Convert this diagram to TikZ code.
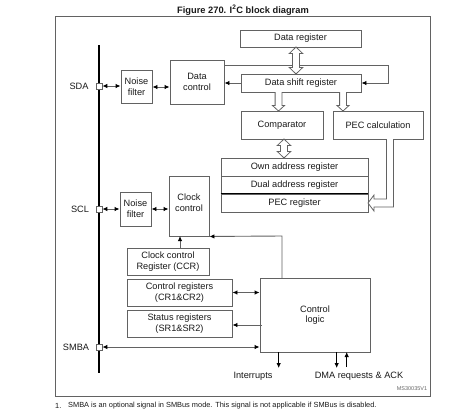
\documentclass[tikz,border=0pt]{standalone}
\usepackage{fontspec}
\setmainfont{Liberation Sans}
\usetikzlibrary{arrows.meta,calc}
\definecolor{boxline}{HTML}{626262}
\definecolor{txt}{HTML}{1A1A1A}
\newcommand\hollowDbl[3]{% cx, ytop, ybottom
  \draw[hollow] (#1,#2) -- (#1+6.7,#2+6.5) -- (#1+3.5,#2+6.5) -- (#1+3.5,#3-6.5) -- (#1+6.7,#3-6.5) -- (#1,#3) -- (#1-6.7,#3-6.5) -- (#1-3.5,#3-6.5) -- (#1-3.5,#2+6.5) -- (#1-6.7,#2+6.5) -- cycle;}
\newcommand\hollowDown[3]{% cx, ytop, ybottom
  \draw[hollow] (#1-3.4,#2) -- (#1-3.4,#3-5.5) -- (#1-6,#3-5.5) -- (#1,#3) -- (#1+6,#3-5.5) -- (#1+3.4,#3-5.5) -- (#1+3.4,#2);}
\begin{document}
\begin{tikzpicture}[x=1pt,y=-1pt,
  every node/.style={text=txt},
  lbl/.style={font=\fontsize{9.2}{10.6}\selectfont, align=center, inner sep=0pt},
  blk/.style={lbl, draw=boxline, line width=0.9pt, fill=white},
  pin/.style={draw=boxline, fill=white, line width=0.8pt, minimum size=6pt, inner sep=0pt},
  conn/.style={draw=boxline, line width=0.9pt},
  tip/.style={-{Latex[length=5pt,width=4.5pt,color=black]}},
  dtip/.style={{Latex[length=5pt,width=4.5pt,color=black]}-{Latex[length=5pt,width=4.5pt,color=black]}},
  hollow/.style={draw=boxline, line width=0.8pt, fill=white}
]
\useasboundingbox (0,0) rectangle (474,416);
\fill[white] (0,0) rectangle (474,416);

% title
\node[inner sep=0pt, font=\fontsize{9.3}{11}\selectfont\bfseries] (title) at (243,10) {Figure 270. I\textsuperscript{2}C block diagram};

% frame
\draw[boxline, line width=0.9pt] (55,16) rectangle (430,396);

% bus
\draw[black, line width=1.4pt] (99,45) -- (99,373);

% blocks
\node[blk, minimum width=31pt, minimum height=33pt] (nfa) at (136.5,86.5) {Noise\\filter};
\node[blk, minimum width=54pt, minimum height=44pt] (dc) at (197,82) {Data\\control};
\node[blk, minimum width=121pt, minimum height=17pt] (dr) at (300.5,38.5) {Data register};
\node[blk, minimum width=120pt, minimum height=18pt] (dsr) at (301,83) {Data shift register};
\node[blk, minimum width=82pt, minimum height=28pt] (comp) at (282,125) {Comparator};
\node[blk, minimum width=90pt, minimum height=28pt] (pec) at (378,125) {PEC calculation};
\node[blk, minimum width=147pt, minimum height=18pt] (own) at (294.5,167) {Own address register};
\node[blk, minimum width=147pt, minimum height=18pt] (dual) at (294.5,185) {Dual address register};
\node[blk, minimum width=147pt, minimum height=18.7pt] (pecr) at (294.5,203.35) {PEC register};
\draw[black, line width=1pt] (pecr.north west) -- (pecr.north east);

\node[blk, minimum width=31pt, minimum height=34pt] (nfc) at (135.5,209) {Noise\\filter};
\node[blk, minimum width=40pt, minimum height=60pt] (cc) at (189,206) {};
\node[lbl] (cctext) at (189,203) {Clock\\control};
\node[blk, minimum width=82pt, minimum height=27pt] (ccr) at (168,261.5) {Clock control\\Register (CCR)};
\node[blk, minimum width=105pt, minimum height=27pt] (cr) at (179.5,292.5) {Control registers\\(CR1\&CR2)};
\node[blk, minimum width=105pt, minimum height=27pt] (sr) at (179.5,323.5) {Status registers\\(SR1\&SR2)};
\node[blk, minimum width=110pt, minimum height=74pt] (cl) at (315,315) {Control\\logic};

% pins
\node[pin] (pa) at (99,86) {};
\node[pin] (pb) at (99,209) {};
\node[pin] (pc) at (99,347) {};
\node[lbl, anchor=center] (sda) at (79,86) {SDA};
\node[lbl, anchor=center] (scl) at (80,209) {SCL};
\node[lbl, anchor=center] (smba) at (76,347) {SMBA};

% coordinates
\coordinate (loopa) at (388,65);
\coordinate (loopb) at (388,83);
\coordinate (dcs) at (224,65);
\coordinate (ccrup) at (180,248);
\coordinate (ccdown) at (180,236);
\coordinate (clup) at (282,278);
\coordinate (clbend) at (282,236);
\coordinate (intA) at (278.7,352);
\coordinate (intB) at (278.7,368);
\coordinate (dmaA) at (336.7,352);
\coordinate (dmaB) at (336.7,368);
\coordinate (ackA) at (346.7,367);
\coordinate (ackB) at (346.7,352);

% connectors
\draw[conn, dtip] (pa.east) -- (nfa.west |- pa.east);
\draw[conn, dtip] ($(nfa.east)+(0,0.5)$) -- ($(dc.west |- nfa.east)+(0,0.5)$);
\draw[conn, tip] (dsr.west) -- (dc.east |- dsr.west);
\draw[conn, tip] (dcs) -- (loopa) -- (loopb) -- (dsr.east);
\draw[conn, dtip] (pb.east) -- (nfc.west |- pb.east);
\draw[conn, dtip] (nfc.east) -- (cc.west |- nfc.east);
\draw[conn, tip] (ccrup) -- (ccdown);
\draw[conn, tip] (clup) -- (clbend) -- (cc.south east);
\draw[conn, dtip] (cr.east) -- (cl.west |- cr.east);
\draw[conn, tip] ($(cl.west |- sr.east)+(2,1.5)$) -- ($(sr.east)+(0,1.5)$);
\draw[conn, dtip] (pc.east) -- (cl.west |- pc.east);
\draw[conn, black, tip] (intA) -- (intB);
\draw[conn, black, tip] (dmaA) -- (dmaB);
\draw[conn, black, tip] (ackA) -- (ackB);

% hollow arrows
\hollowDbl{296}{47}{74}
\hollowDown{278.5}{92}{111}
\hollowDown{343}{92}{111}
\hollowDbl{284}{139}{158}
\draw[hollow] (386.5,139) -- (386.5,199) -- (374,199) -- (374,195) -- (368,203) -- (374,211) -- (374,207) -- (393.5,207) -- (393.5,139);

% labels
\node[lbl] (intl) at (253,376) {Interrupts};
\node[lbl] (dmal) at (359,376) {DMA requests \& ACK};
\node[inner sep=0pt, font=\fontsize{5.5}{6}\selectfont, text=black!60] (ms) at (412,389) {MS30035V1};
\node[inner sep=0pt, anchor=west, font=\fontsize{7.4}{8}\selectfont] (fn1) at (55,405.7) {1.};
\node[inner sep=0pt, anchor=west, font=\fontsize{7.4}{8}\selectfont] (fn2) at (68,405.7) {SMBA is an optional signal in SMBus mode. This signal is not applicable if SMBus is disabled.};
\end{tikzpicture}
\end{document}
